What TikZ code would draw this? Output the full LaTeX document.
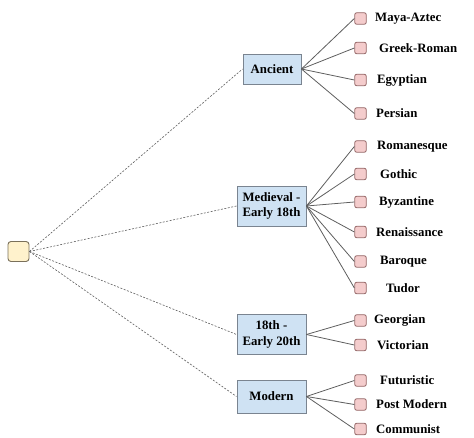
\documentclass[tikz,border=0pt]{standalone}
\usepackage{fontspec}
\setmainfont{Liberation Serif}
\usepackage{tikz}
\definecolor{erablue}{HTML}{CFE2F3}
\definecolor{leafpink}{HTML}{F4CCCC}
\definecolor{rootcream}{HTML}{FFF2CC}
\definecolor{leafedge}{HTML}{946666}
\definecolor{rootedge}{HTML}{7A705A}
\definecolor{eraedge}{HTML}{7A8490}
\definecolor{wire}{HTML}{5E5E5E}
\begin{document}
\begin{tikzpicture}[x={(1pt,0)}, y={(0,-1pt)},
  font=\fontsize{12.8}{15.5}\selectfont\bfseries,
  root/.style={draw=rootedge, fill=rootcream, line width=0.9pt, rounded corners=3pt, minimum width=21pt, minimum height=20pt, inner sep=0pt},
  era/.style={draw=eraedge, fill=erablue, line width=0.9pt, align=center, inner sep=0pt, minimum width=69pt, minimum height=40pt},
  leaf/.style={draw=leafedge, fill=leafpink, line width=0.8pt, rounded corners=2pt, minimum size=11.5pt, inner sep=0pt},
  dashwire/.style={draw=wire, dash pattern=on 2pt off 1.5pt, line width=0.6pt},
  solidwire/.style={draw=wire, line width=0.8pt}]
  \useasboundingbox (0,0) rectangle (474,438);
  \node[root] (root) at (18.5,251.5) {};
  \node[era, minimum width=58pt, minimum height=30pt] (ancient) at (272,69) {Ancient};
  \node[era] (medieval) at (271.5,206) {Medieval -\\Early 18th};
  \node[era] (georgianera) at (271.5,334.5) {18th -\\Early 20th};
  \node[era, minimum height=33pt] (modern) at (271.5,396.5) {Modern};
  \foreach \e in {ancient,medieval,georgianera,modern}
    \draw[dashwire] (root.east) -- (\e.west);
  % leaves: name / y / label x / parent / text
  \foreach \n/\y/\lx/\p/\t in {maya/18.5/375/ancient/Maya-Aztec,
      greek/48/379/ancient/Greek-Roman,
      egypt/80/377/ancient/Egyptian,
      persia/113.5/376/ancient/Persian,
      roman/146.5/377/medieval/Romanesque,
      gothic/174/380/medieval/Gothic,
      byz/202/379/medieval/Byzantine,
      renai/232/376/medieval/Renaissance,
      baroq/261.5/380/medieval/Baroque,
      tudor/288/386/medieval/Tudor,
      georg/320.5/374/georgianera/Georgian,
      vict/345/377/georgianera/Victorian,
      futur/380.5/380/modern/Futuristic,
      postm/404.5/376/modern/Post Modern,
      commu/429/376/modern/Communist} {
    \node[leaf] (\n) at (360.5,\y) {};
    \node[anchor=west, inner sep=0pt] (\n-text) at (\lx,\y) {\t};
    \draw[solidwire] (\p.east) -- (\n.west);
  }
\end{tikzpicture}
\end{document}
